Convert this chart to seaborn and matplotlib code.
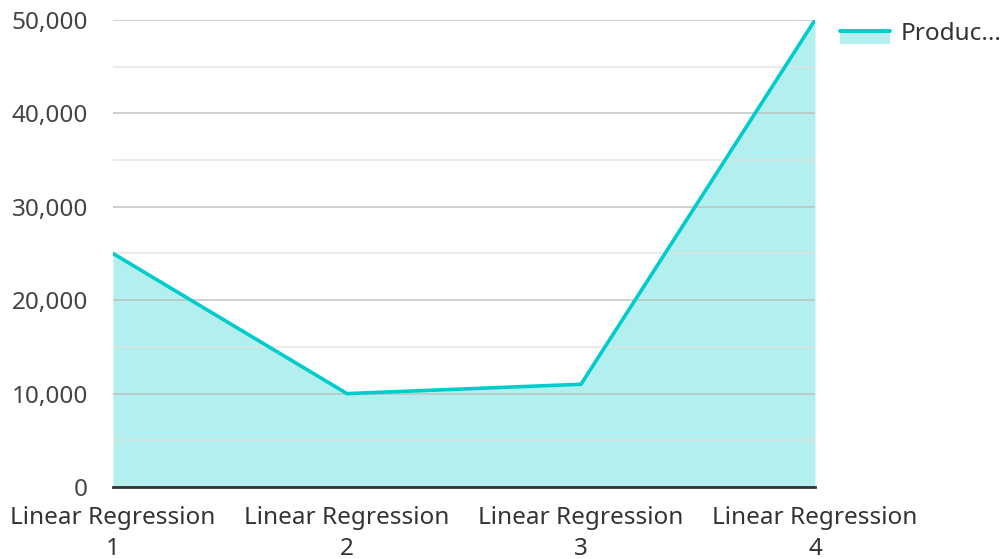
import matplotlib
matplotlib.use("Agg")
import matplotlib.pyplot as plt
from matplotlib.legend_handler import HandlerBase
from matplotlib.lines import Line2D
from matplotlib.patches import Rectangle
from matplotlib.ticker import FuncFormatter, MultipleLocator
import seaborn as sns
import pandas as pd

categories = ["Linear Regression\n1", "Linear Regression\n2", "Linear Regression\n3", "Linear Regression\n4"]
values = [25000, 10000, 11000, 50000]
series_name = "Produc..."

LINE = "#00cccc"
FILL = "#b2efee"
FS = 17.5

sns.set_theme(style="white")
plt.rcParams["font.family"] = ["Noto Sans", "DejaVu Sans"]

df = pd.DataFrame({"pos": range(len(categories)), "value": values})

fig = plt.figure(figsize=(10.02, 5.59), dpi=100)
ax = fig.add_axes([113 / 1002, 1 - 487 / 559, (815 - 113) / 1002, (487 - 20) / 559])

ax.fill_between(df["pos"], df["value"], 0, color=FILL, linewidth=0, zorder=1)
sns.lineplot(data=df, x="pos", y="value", ax=ax, color=LINE, linewidth=2.6, zorder=3, legend=False)

ax.set_xlim(0, len(categories) - 1)
ax.set_ylim(0, 50000)
ax.set_xticks(range(len(categories)))
ax.set_xticklabels(categories)
ax.yaxis.set_major_locator(MultipleLocator(10000))
ax.yaxis.set_minor_locator(MultipleLocator(5000))
ax.yaxis.set_major_formatter(FuncFormatter(lambda v, p: f"{int(v):,}"))

ax.set_axisbelow("line")
ax.grid(True, which="major", axis="y", color="#bdbdbd", linewidth=1.1, alpha=0.9)
ax.grid(True, which="minor", axis="y", color="#e3e3e3", linewidth=1.1, alpha=0.9)
ax.grid(False, axis="x")

for s in ["top", "right", "left"]:
    ax.spines[s].set_visible(False)
ax.spines["bottom"].set_color("#333333")
ax.spines["bottom"].set_linewidth(2)
ax.spines["bottom"].set_zorder(4)

ax.tick_params(axis="y", which="both", length=0, pad=18, labelsize=FS, labelcolor="#444444")
ax.tick_params(axis="x", length=0, pad=13.5, labelsize=FS, labelcolor="#333333")
for t in ax.get_xticklabels():
    t.set_linespacing(1.38)
ax.set_xlabel("")
ax.set_ylabel("")


class AreaHandler(HandlerBase):
    def create_artists(self, legend, orig_handle, xdescent, ydescent, width, height, fontsize, trans):
        top = height * 0.5
        depth = fontsize * 0.5
        rect = Rectangle((-xdescent, top - depth), width, depth,
                         facecolor=FILL, edgecolor="none", transform=trans)
        line = Line2D([-xdescent, -xdescent + width], [top, top], color=LINE, linewidth=2.8,
                      transform=trans)
        return [rect, line]


handle = Rectangle((0, 0), 1, 1)
fig.legend([handle], [series_name], handler_map={Rectangle: AreaHandler()},
           loc="upper left", bbox_to_anchor=(840 / 1002, 1 - 22 / 559), frameon=False,
           fontsize=FS, handlelength=2.06, handletextpad=0.42, borderaxespad=0, borderpad=0,
           labelcolor="#333333")

fig.savefig("out.png", dpi=100)
